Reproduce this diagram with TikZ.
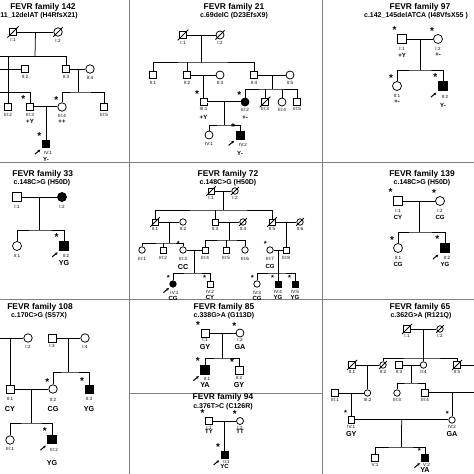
\documentclass[tikz,border=0pt]{standalone}
\usepackage{fontspec}
\setmainfont{Liberation Sans}
\usetikzlibrary{arrows.meta, calc}

\begin{document}
\begin{tikzpicture}[
    x=1pt, y=-1pt, line width=0.75pt,
    title/.style  ={font=\fontsize{8.4}{9}\selectfont\bfseries, inner sep=0pt},
    subt/.style   ={font=\fontsize{7}{7}\selectfont\bfseries, inner sep=0pt},
    sym/.style    ={draw, fill=white, inner sep=0pt, line width=0.75pt},
    male/.style   ={sym, rectangle, minimum size=#1},
    male/.default =8pt,
    fem/.style    ={sym, circle, minimum size=#1},
    fem/.default  =8.5pt,
    aff/.style    ={fill=black},
    halfaff/.style={path picture={\fill (path picture bounding box.north)
                     rectangle (path picture bounding box.south east);}},
    dead/.style   ={append after command={(\tikzlastnode.south west)
                     edge[shorten <=-2pt, shorten >=-2pt] (\tikzlastnode.north east)}},
    lab/.style    ={font=\fontsize{4.6}{4.6}\selectfont, inner sep=0pt, label distance=#1},
    lab/.default  =2pt,
    gt/.style     ={font=\fontsize{6}{6}\selectfont\bfseries, inner sep=0pt, label distance=#1},
    gt/.default   =8pt,
    gtL/.style    ={font=\fontsize{7.2}{7.2}\selectfont\bfseries, inner sep=0pt, label distance=#1},
    gtL/.default  =8pt,
    ast/.style    ={font=\fontsize{#1}{#1}\selectfont\bfseries, inner sep=0pt, label distance=0.3pt},
    ast/.default  =10pt,
    cons/.style   ={double, double distance=0.7pt, line width=0.55pt},
    proband/.style={-{Stealth[length=2.8pt, width=2.8pt]}, line width=1pt},
    border/.style ={draw=black!50, line width=0.8pt},
]
\fill[white] (0,0) rectangle (474,474);
\useasboundingbox (0,0) rectangle (474,474);
\clip (0,0) rectangle (474,474);

% ── Panel borders ──────────────────────────────────────────────────────
\draw[border] (129,0) -- (129,474);
\draw[border] (322,0) -- (322,474);
\draw[border] (0,162) -- (474,162);
\draw[border] (0,299) -- (474,299);
\draw[border] (129,393) -- (322,393);

% ── FEVR family 142 ────────────────────────────────────────────────────
\node[title] (t142) at (43,7) {FEVR family 142};
\node[subt, anchor=west] (s142) at (0,15.5) {11\_12delAT (H4RfsX21)};
\node[male=7.5pt, dead, label={[lab]below:{I:1}}] (a11) at (13,32) {};
\node[fem,  dead, label={[lab]below:{I:2}}] (a12) at (58,32) {};
\node[male=7.5pt, label={[lab]below:{II:2}}] (a22) at (25,69) {};
\node[male=7.5pt, label={[lab]below:{II:3}}] (a23) at (66,69) {};
\node[fem,  label={[lab]below:{II:4}}] (a24) at (90,69) {};
\node[male=7.5pt, label={[lab]below:{III:2}}] (a32) at (8,107) {};
\node[male=7.5pt, label={[lab]below:{III:3}}, label={[gt]below:{+Y}},
      label={[ast]north west:*}] (a33) at (30,107) {};
\node[fem,  label={[lab]below:{III:4}}, label={[gt]below:{++}},
      label={[ast]north west:*}] (a34) at (62,107) {};
\node[male=7.5pt, label={[lab]below:{III:5}}] (a35) at (104,107) {};
\node[male=7.5pt, aff, label={[lab=3pt, xshift=2pt]below:{IV:1}}, label={[gt=9pt]below:{Y-}},
      label={[ast]north west:*}] (a41) at (46,144) {};

\coordinate (a1m) at ($(a11)!.5!(a12)$);
\coordinate (a1s) at (35,56);
\coordinate (a1L) at (0,56);
\coordinate (a2L) at (0,69);
\coordinate (a3L) at (0,92);
\coordinate (a2m) at ($(a23)!.5!(a24)$);
\coordinate (a2s) at (78,92);
\coordinate (a3m) at ($(a33)!.5!(a34)$);
\draw (a11) -- (a12);
\draw (a1m |- a11) -- (a1s);
\draw (a1L) -| (a23);
\draw (a32 |- a1s) -- (a32);
\draw (a2L) -- (a22);
\draw (a3L) -| (a33);
\draw (a23) -- (a24);
\draw (a2m) -- (a2s);
\draw (a34) |- (a2s) -| (a35);
\draw[cons] (a33) -- (a34);
\draw (a3m) -- (a41);

% ── FEVR family 21 ─────────────────────────────────────────────────────
\node[title] (t21) at (234,7) {FEVR family 21};
\node[subt]  (s21) at (234,15.5) {c.69delC (D23EfsX9)};
\node[male=7pt, dead, label={[lab]below:{I:1}}] (b11) at (183,35) {};
\node[fem=8pt,  dead, label={[lab]below:{I:2}}] (b12) at (220,35) {};
\node[male=7pt, label={[lab]below:{II:1}}] (b21) at (153,75) {};
\node[male=7pt, label={[lab]below:{II:2}}] (b22) at (187,75) {};
\node[fem=8pt,  label={[lab]below:{II:3}}] (b23) at (220,75) {};
\node[male=7pt, label={[lab]below:{II:4}}] (b24) at (254,75) {};
\node[fem=8pt,  label={[lab]below:{II:5}}] (b25) at (290,75) {};
\node[male=7pt, label={[lab=1.5pt]below:{III:1}}, label={[gt=9pt]below:{+Y}},
      label={[ast]north west:*}] (b31) at (203.5,102) {};
\node[fem=8pt, aff, label={[lab=1.5pt]below:{III:2}}, label={[gt=9pt]below:{+-}},
      label={[ast]north west:*}] (b32) at (245,102) {};
\node[male=7pt, dead, label={[lab=1.5pt]below:{III:3}}] (b33) at (265,102) {};
\node[fem=8pt,  label={[lab=1.5pt]below:{III:4}}] (b34) at (282,102) {};
\node[male=7pt, label={[lab=1.5pt]below:{III:5}}] (b35) at (297,102) {};
\node[fem=8pt,  label={[lab=3pt]below:{IV:1}}] (b41) at (209,135) {};
\node[male=8pt, aff, label={[lab=4pt, xshift=3pt]below:{IV:2}}, label={[gt=12pt]below:{Y-}},
      label={[ast]north west:*}] (b42) at (240,135) {};

\coordinate (b1m) at ($(b11)!.5!(b12)$);
\coordinate (b1s) at (201.5,62);
\coordinate (b2m) at ($(b22)!.5!(b23)$);
\coordinate (b4m) at ($(b24)!.5!(b25)$);
\coordinate (b4s) at (272,89);
\coordinate (b3m) at ($(b31)!.5!(b32)$);
\coordinate (b3s) at (224.25,125);
\draw (b11) -- (b12);
\draw (b1m) -- (b1s);
\draw (b21) |- (b1s) -| (b24);
\draw (b22) -- (b22 |- b1s);
\draw (b22) -- (b23);
\draw (b2m) -- (b31);
\draw (b24) -- (b25);
\draw (b4m) -- (b4s);
\draw (b32) |- (b4s) -| (b35);
\foreach \n in {b33,b34} \draw (\n) -- (\n |- b4s);
\draw[cons] (b31) -- (b32);
\draw (b3m) -- (b3s);
\draw (b41) |- (b3s) -| (b42);

% ── FEVR family 97 ─────────────────────────────────────────────────────
\node[title] (t97) at (420,7) {FEVR family 97};
\node[subt]  (s97) at (416,15.5) {c.142\_145delATCA (I48VfsX55 )};
\node[male=9pt, label={[lab=3pt]below:{I:1}}, label={[gt=9pt]below:{+Y}},
      label={[ast]north west:*}] (c11) at (402,39) {};
\node[fem=9pt,  label={[lab=3pt]below:{I:2}}, label={[gt=9pt]below:{+-}},
      label={[ast]north west:*}] (c12) at (438,39) {};
\node[fem=9pt,  label={[lab=3pt]below:{II:1}}, label={[gt=9pt]below:{+-}},
      label={[ast]north west:*}] (c21) at (397,86) {};
\node[male=9.5pt, aff, label={[lab=4pt, xshift=2pt]below:{II:2}}, label={[gt=12pt]below:{Y-}},
      label={[ast]north west:*}] (c22) at (443,86) {};

\coordinate (c1m) at ($(c11)!.5!(c12)$);
\coordinate (c1s) at (420,70);
\draw (c11) -- (c12);
\draw (c1m) -- (c1s);
\draw (c21) |- (c1s) -| (c22);

% ── FEVR family 33 ─────────────────────────────────────────────────────
\node[title, anchor=west] (t33) at (12,174) {FEVR family 33};
\node[subt]  (s33) at (42,182.5) {c.148C>G (H50D)};
\node[male=9pt, label={[lab=3pt]below:{I:1}}] (d11) at (17,197) {};
\node[fem=9pt, aff, label={[lab=3pt]below:{I:2}}] (d12) at (62,197) {};
\node[fem=9pt, label={[lab=3pt]below:{II:1}}] (d21) at (17,246) {};
\node[male=9pt, aff, label={[lab=3pt, xshift=2pt]below:{II:2}}, label={[gtL=9pt]below:{YG}},
      label={[ast]north west:*}] (d22) at (64,246) {};

\coordinate (d1m) at ($(d11)!.5!(d12)$);
\coordinate (d1s) at (39.5,230);
\draw (d11) -- (d12);
\draw (d1m) -- (d1s);
\draw (d21) |- (d1s) -| (d22);

% ── FEVR family 72 ─────────────────────────────────────────────────────
\node[title] (t72) at (228,174) {FEVR family 72};
\node[subt]  (s72) at (228,182.5) {c.148C>G (H50D)};
\node[male=6pt, dead, label={[lab=1.5pt]below:{I:1}}] (e11) at (211,191) {};
\node[fem=6.5pt, dead, label={[lab=1.5pt]below:{I:2}}] (e12) at (235,191) {};
\node[male=6pt, dead, label={[lab=1.5pt]below:{II:1}}] (e21) at (155,222) {};
\node[fem=6.5pt, label={[lab=1.5pt]below:{II:2}}] (e22) at (183,222) {};
\node[male=6pt, label={[lab=1.5pt]below:{II:3}}] (e23) at (215,222) {};
\node[fem=6.5pt, dead, label={[lab=1.5pt]below:{II:4}}] (e24) at (243,222) {};
\node[male=6pt, dead, label={[lab=1.5pt]below:{II:5}}] (e25) at (272,222) {};
\node[fem=6.5pt, dead, label={[lab=1.5pt]below:{II:6}}] (e26) at (300,222) {};
\node[fem=6.5pt, label={[lab=3pt]below:{III:1}}] (e31) at (142,250) {};
\node[male=6pt, label={[lab=3pt]below:{III:2}}] (e32) at (163,250) {};
\node[fem=6.5pt, label={[lab=3pt]below:{III:3}}, label={[gtL=10pt]below:{CC}},
      label={[ast=7.5pt]north west:*}] (e33) at (183,250) {};
\node[male=6pt, label={[lab=3pt]below:{III:4}}] (e34) at (205,250) {};
\node[male=6pt, label={[lab=3pt]below:{III:5}}] (e35) at (226,250) {};
\node[fem=6.5pt, label={[lab=3pt]below:{III:6}}] (e36) at (245,250) {};
\node[fem=6.5pt, label={[lab=3pt]below:{III:7}}, label={[gt=10pt]below:{CG}},
      label={[ast=7.5pt]north west:*}] (e37) at (270,250) {};
\node[male=6pt, label={[lab=3pt]below:{III:8}}] (e38) at (286,250) {};
\node[fem=6.5pt, aff, label={[lab=3pt, xshift=1.5pt]below:{IV:1}}, label={[gt=8pt]below:{CG}},
      label={[ast=7.5pt]north west:*}] (e41) at (173,284) {};
\node[male=6pt, label={[lab=3pt]below:{IV:2}}, label={[gt=8pt]below:{CY}},
      label={[ast=7.5pt]north west:*}] (e42) at (210,284) {};
\node[fem=6.5pt, label={[lab=3pt]below:{IV:3}}, label={[gt=8pt]below:{CG}},
      label={[ast=7.5pt]north west:*}] (e43) at (257,284) {};
\node[male=6pt, aff, label={[lab=3pt]below:{IV:4}}, label={[gt=8pt]below:{YG}},
      label={[ast=7.5pt]north west:*}] (e44) at (278,284) {};
\node[male=6pt, aff, label={[lab=3pt]below:{IV:5}}, label={[gt=8pt]below:{YG}},
      label={[ast=7.5pt]north west:*}] (e45) at (295,284) {};

\coordinate (e1m) at ($(e11)!.5!(e12)$);
\coordinate (e1s) at (223,210);
\coordinate (e2m) at ($(e21)!.5!(e22)$);
\coordinate (e2s) at (169,243);
\coordinate (e3m) at ($(e23)!.5!(e24)$);
\coordinate (e3s) at (229,240);
\coordinate (e5m) at ($(e25)!.5!(e26)$);
\coordinate (e6m) at ($(e33)!.5!(e34)$);
\coordinate (e6s) at (194,273);
\coordinate (e7m) at ($(e37)!.5!(e38)$);
\coordinate (e7s) at (278,273);
\draw (e11) -- (e12);
\draw (e1m) -- (e1s);
\draw (e21) |- (e1s) -| (e25);
\draw (e23) -- (e23 |- e1s);
\draw (e21) -- (e22);
\draw (e2m) -- (e2s);
\draw (e31) |- (e2s) -| (e33);
\draw (e32) -- (e32 |- e2s);
\draw (e23) -- (e24);
\draw (e3m) -- (e3s);
\draw (e34) |- (e3s) -| (e36);
\draw (e35) -- (e35 |- e3s);
\draw (e25) -- (e26);
\draw (e5m) -- (e38);
\draw (e33) -- (e34);
\draw (e6m) -- (e6s);
\draw (e41) |- (e6s) -| (e42);
\draw (e37) -- (e38);
\draw (e7m) -- (e7s);
\draw (e43) |- (e7s) -| (e45);
\draw (e44) -- (e44 |- e7s);

% ── FEVR family 139 ────────────────────────────────────────────────────
\node[title] (t139) at (422,174) {FEVR family 139};
\node[subt]  (s139) at (422,182.5) {c.148C>G (H50D)};
\node[male=9pt, label={[lab=3pt]below:{I:1}}, label={[gt=9pt]below:{CY}},
      label={[ast]north west:*}] (g11) at (398,201) {};
\node[fem=9pt, halfaff, label={[lab=3pt]below:{I:2}}, label={[gt=9pt]below:{CG}},
      label={[ast]north west:*}] (g12) at (440,201) {};
\node[fem=9pt, label={[lab=3pt]below:{II:1}}, label={[gt=9pt]below:{CG}},
      label={[ast]north west:*}] (g21) at (398,248) {};
\node[male=9.5pt, aff, label={[lab=3pt, xshift=2pt]below:{II:2}}, label={[gt=9pt]below:{YG}},
      label={[ast]north west:*}] (g22) at (445,248) {};

\coordinate (g1m) at ($(g11)!.5!(g12)$);
\coordinate (g1s) at (419,232);
\draw (g11) -- (g12);
\draw (g1m) -- (g1s);
\draw (g21) |- (g1s) -| (g22);

% ── FEVR family 108 ────────────────────────────────────────────────────
\node[title] (t108) at (40,307) {FEVR family 108};
\node[subt]  (s108) at (39,315.5) {c.170C>G (S57X)};
\node[fem,  label={[lab=2pt]below:{I:2}}] (h12) at (28,338) {};
\node[male, label={[lab=2pt]below:{I:3}}] (h13) at (52,338) {};
\node[fem,  label={[lab=2pt]below:{I:4}}] (h14) at (85,338) {};
\node[male, label={[lab=4pt]below:{II:1}}, label={[gtL=12.5pt]below:{CY}}] (h21) at (10,389) {};
\node[fem,  label={[lab=4pt]below:{II:2}}, label={[gtL=12.5pt]below:{CG}},
      label={[ast]north west:*}] (h22) at (53,389) {};
\node[male, aff, label={[lab=4pt]below:{II:3}}, label={[gtL=12.5pt]below:{YG}},
      label={[ast]north west:*}] (h23) at (89,389) {};
\node[fem,  label={[lab=2.5pt]below:{III:1}}] (h31) at (10,440) {};
\node[male=8.5pt, aff, label={[lab=4pt, xshift=2pt]below:{III:2}}, label={[gtL=15.5pt]below:{YG}},
      label={[ast]north west:*}] (h32) at (52,439.5) {};

\coordinate (h1L) at (0,338);
\coordinate (h3m) at ($(h13)!.5!(h14)$);
\coordinate (h3s) at (68.5,372);
\coordinate (h2m) at ($(h21)!.5!(h22)$);
\coordinate (h2s) at (31.5,423);
\draw (h1L) -- (h12);
\draw (h21 |- h1L) -- (h21);
\draw (h13) -- (h14);
\draw (h3m) -- (h3s);
\draw (h22) |- (h3s) -| (h23);
\draw (h21) -- (h22);
\draw (h2m) -- (h2s);
\draw (h31) |- (h2s) -| (h32);

% ── FEVR family 85 ─────────────────────────────────────────────────────
\node[title] (t85) at (224,307) {FEVR family 85};
\node[subt]  (s85) at (224,315.5) {c.338G>A (G113D)};
\node[male, label={[lab=1pt]below:{I:1}}, label={[gtL=7pt]below:{GY}},
      label={[ast]north west:*}] (i11) at (205,333) {};
\node[fem=8pt, label={[lab=1pt]below:{I:2}}, label={[gtL=7pt]below:{GA}},
      label={[ast]north west:*}] (i12) at (240,333) {};
\node[male=8.5pt, aff, label={[lab=2pt, xshift=2pt]below:{II:1}}, label={[gtL=8pt]below:{YA}},
      label={[ast]north west:*}] (i21) at (205,370) {};
\node[male, label={[lab=2pt]below:{II:2}}, label={[gtL=8pt]below:{GY}},
      label={[ast]north west:*}] (i22) at (239,370) {};

\coordinate (i1m) at ($(i11)!.5!(i12)$);
\coordinate (i1s) at (222.5,358);
\draw (i11) -- (i12);
\draw (i1m) -- (i1s);
\draw (i21) |- (i1s) -| (i22);

% ── FEVR family 94 ─────────────────────────────────────────────────────
\node[title] (t94) at (223,397.5) {FEVR family 94};
\node[subt]  (s94) at (223,406.5) {c.376T>C (C126R)};
\node[male=7pt, label={[lab=1pt]below:{I:1}}, label={[gt=4.5pt]below:{TY}},
      label={[ast]north west:*}] (j11) at (209,421) {};
\node[fem=7pt, label={[lab=1pt]below:{I:2}}, label={[gt=4.5pt]below:{TT}},
      label={[ast]north west:*}] (j12) at (240,421) {};
\node[male=7pt, aff, label={[lab=1pt, xshift=2pt]below:{II:1}}, label={[gt=5pt]below:{YC}},
      label={[ast]north west:*}] (j21) at (224.5,455) {};

\coordinate (j1m) at ($(j11)!.5!(j12)$);
\draw (j11) -- (j12);
\draw (j1m) -- (j21);

% ── FEVR family 65 ─────────────────────────────────────────────────────
\node[title] (t65) at (420,307) {FEVR family 65};
\node[subt]  (s65) at (421,315.5) {c.362G>A (R121Q)};
\node[male=6.5pt, dead, label={[lab=1.5pt]below:{I:1}}] (k11) at (407,329) {};
\node[fem=6.5pt,  dead, label={[lab=1.5pt]below:{I:2}}] (k12) at (440,329) {};
\node[male=6.5pt, dead, label={[lab=1.5pt]below:{II:1}}] (k21) at (352,365) {};
\node[fem=6.5pt,  dead, label={[lab=1.5pt]below:{II:2}}] (k22) at (383,365) {};
\node[male=6.5pt, label={[lab=1.5pt]below:{II:3}}] (k23) at (399,365) {};
\node[fem=6.5pt,  label={[lab=1.5pt]below:{II:4}}] (k24) at (423.5,365) {};
\node[male=6.5pt, dead, label={[lab=1.5pt]below:{II:5}}] (k25) at (457,365) {};
\node[male=6.5pt, label={[lab=1.5pt]below:{III:1}}] (k31) at (335,393) {};
\node[fem=6.5pt,  label={[lab=1.5pt]below:{III:2}}] (k32) at (367.5,393) {};
\node[fem=6.5pt,  label={[lab=1.5pt]below:{III:3}}] (k33) at (397,393) {};
\node[male=6.5pt, label={[lab=1.5pt]below:{III:4}}] (k34) at (425,393) {};
\node[male=6.5pt, label={[lab=1.5pt]below:{IV:1}}, label={[gtL=7.5pt]below:{GY}},
      label={[ast=7.5pt]north west:*}] (k41) at (351.25,420) {};
\node[fem=6.5pt,  label={[lab=1.5pt]below:{IV:2}}, label={[gtL=7.5pt]below:{GA}},
      label={[ast=7.5pt]north west:*}] (k42) at (452,420) {};
\node[male=6.5pt, label={[lab=1.5pt]below:{V:1}}] (k51) at (375,458) {};
\node[male=6.5pt, aff, label={[lab=1pt, xshift=1.5pt]below:{V:2}}, label={[gtL=6pt]below:{YA}},
      label={[ast=7.5pt]north west:*}] (k52) at (425,458) {};

\coordinate (k1m) at ($(k11)!.5!(k12)$);
\coordinate (k1s) at (423.5,358);
\coordinate (k5R) at (474,365);
\coordinate (k2m) at ($(k21)!.5!(k22)$);
\coordinate (k3m) at ($(k23)!.5!(k24)$);
\coordinate (k3s) at (411.25,383);
\coordinate (k4m) at ($(k31)!.5!(k32)$);
\coordinate (k6R) at (474,393);
\coordinate (k6d) at (452,393);
\coordinate (k7m) at ($(k41)!.5!(k42)$);
\coordinate (k7s) at (401.6,447);
\draw (k11) -- (k12);
\draw (k1m) -- (k1s);
\draw (k22) |- (k1s) -| (k25);
\draw (k24) -- (k24 |- k1s);
\draw (k25) -- (k5R);
\draw (k21) -- (k22);
\draw (k2m) -- (k32);
\draw (k23) -- (k24);
\draw (k3m) -- (k3s);
\draw (k33) |- (k3s) -| (k34);
\draw (k31) -- (k32);
\draw (k4m) -- (k41);
\draw[cons] (k34) -- (k6R);
\draw (k6d) -- (k42);
\draw[cons] (k41) -- (k42);
\draw (k7m) -- (k7s);
\draw (k51) |- (k7s) -| (k52);

% ── Proband arrows ─────────────────────────────────────────────────────
\foreach \n in {a41,b42,c22,d22,e41,g22,h32,i21,j21,k52}
  \draw[proband] (\n.south west) ++(-7pt,-6pt) -- ++(5.5pt,4.5pt);

\end{tikzpicture}
\end{document}
